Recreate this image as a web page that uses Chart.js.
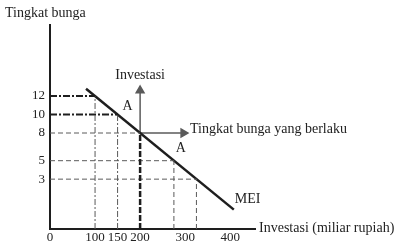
<!DOCTYPE html>
<html lang="id">

<head>
    <meta charset="UTF-8">
    <title>MEI - Tingkat bunga dan investasi</title>
    <script src="https://cdn.jsdelivr.net/npm/chart.js"></script>
    <style>
        body {
            margin: 0;
            background: #fff;
        }
    </style>
</head>

<body>
    <canvas id="chart" width="400" height="250"></canvas>
    <script>
        // investasi (miliar rupiah) and tingkat bunga at the marked points
        const investasi = [100, 150, 200, 275, 325];
        const tingkatBunga = [12, 10, 8, 5, 3];

        // MEI line ends
        const meiX = [80, 408];
        const meiY = [12.8, -0.3];

        // arrows from the current rate point (200, 8)
        const arrowUpY = [8, 12.6];
        const arrowRightX = [200, 296];

        const xTicks = [0, 100, 150, 200, 300, 400];
        const yTicks = [12, 10, 8, 5, 3];

        const yLabel = 'Tingkat bunga';
        const xLabel = 'Investasi (miliar rupiah)';
        const upLabel = 'Investasi';
        const rightLabel = 'Tingkat bunga yang berlaku';
        const curveLabel = 'MEI';
        const pointLabel = 'A';

        const Y_MIN = -2.4, Y_MAX = 19.7;
        const FONT = '"Liberation Serif", "DejaVu Serif", serif';
        const dark = '#1e1e1e', grey = '#5a5a5a';

        const datasets = [];

        // horizontal and vertical guide lines
        investasi.forEach((inv, i) => {
            const r = tingkatBunga[i];
            const strong = r >= 10;
            datasets.push({
                data: [{ x: 0, y: r }, { x: inv, y: r }],
                borderColor: strong ? dark : grey,
                borderWidth: strong ? 2 : 1,
                borderDash: strong ? [7, 2, 2, 2] : [5, 3],
            });
            const main = inv === 200;
            datasets.push({
                data: [{ x: inv, y: Y_MIN }, { x: inv, y: r }],
                borderColor: main ? dark : grey,
                borderWidth: main ? 2.5 : 1,
                borderDash: main ? [6, 2] : (r >= 10 ? [6, 2, 2, 2] : [5, 3]),
            });
        });

        // MEI curve
        datasets.push({
            data: meiX.map((x, i) => ({ x: x, y: meiY[i] })),
            borderColor: dark,
            borderWidth: 2.5,
        });

        // arrows
        datasets.push({
            data: arrowUpY.map(y => ({ x: 200, y: y })),
            borderColor: grey,
            backgroundColor: grey,
            borderWidth: 1.5,
            pointStyle: 'triangle',
            pointRadius: [0, 4.5],
            rotation: 0,
        });
        datasets.push({
            data: arrowRightX.map(x => ({ x: x, y: 8 })),
            borderColor: grey,
            backgroundColor: grey,
            borderWidth: 1.5,
            pointStyle: 'triangle',
            pointRadius: [0, 4.5],
            rotation: 90,
        });

        datasets.forEach(d => {
            d.showLine = true;
            d.clip = false;
            if (d.pointRadius === undefined) d.pointRadius = 0;
        });

        const textPlugin = {
            id: 'texts',
            afterDraw(chart) {
                const { ctx, scales: { x, y } } = chart;
                ctx.save();
                ctx.fillStyle = '#222';
                ctx.font = '14px ' + FONT;
                ctx.textBaseline = 'middle';
                ctx.textAlign = 'left';
                ctx.fillText(yLabel, 5, 13);
                ctx.fillText(xLabel, 259, 228);
                ctx.fillText(rightLabel, 190, 129);
                ctx.fillText(curveLabel, x.getPixelForValue(meiX[1]) + 1, y.getPixelForValue(meiY[1]) - 10);
                ctx.textAlign = 'center';
                ctx.fillText(upLabel, x.getPixelForValue(200), 75);
                ctx.fillText(pointLabel, x.getPixelForValue(investasi[1]) + 10, y.getPixelForValue(tingkatBunga[1]) - 8);
                ctx.fillText(pointLabel, x.getPixelForValue(investasi[3]) + 7, y.getPixelForValue(tingkatBunga[3]) - 12);
                ctx.restore();
            }
        };

        const tickFont = { family: FONT, size: 13 };

        new Chart(document.getElementById('chart'), {
            type: 'scatter',
            data: { datasets: datasets },
            options: {
                responsive: false,
                animation: false,
                layout: { padding: { top: 25, right: 145, left: 0, bottom: 0 } },
                plugins: { legend: { display: false }, tooltip: { enabled: false } },
                scales: {
                    x: {
                        type: 'linear',
                        min: 0,
                        max: 455,
                        afterBuildTicks: s => { s.ticks = xTicks.map(v => ({ value: v })); },
                        afterFit: s => { s.height = 21; },
                        grid: { display: false, drawTicks: false },
                        border: { display: true, color: dark, width: 2 },
                        ticks: { color: '#222', font: tickFont, padding: 1, maxRotation: 0, autoSkip: false },
                    },
                    y: {
                        type: 'linear',
                        min: Y_MIN,
                        max: Y_MAX,
                        afterBuildTicks: s => { s.ticks = yTicks.map(v => ({ value: v })); },
                        afterFit: s => { s.width = 50; },
                        grid: { display: false, drawTicks: false },
                        border: { display: true, color: dark, width: 2 },
                        ticks: { color: '#222', font: tickFont, padding: 5, autoSkip: false },
                    }
                }
            },
            plugins: [textPlugin]
        });
    </script>
</body>

</html>
